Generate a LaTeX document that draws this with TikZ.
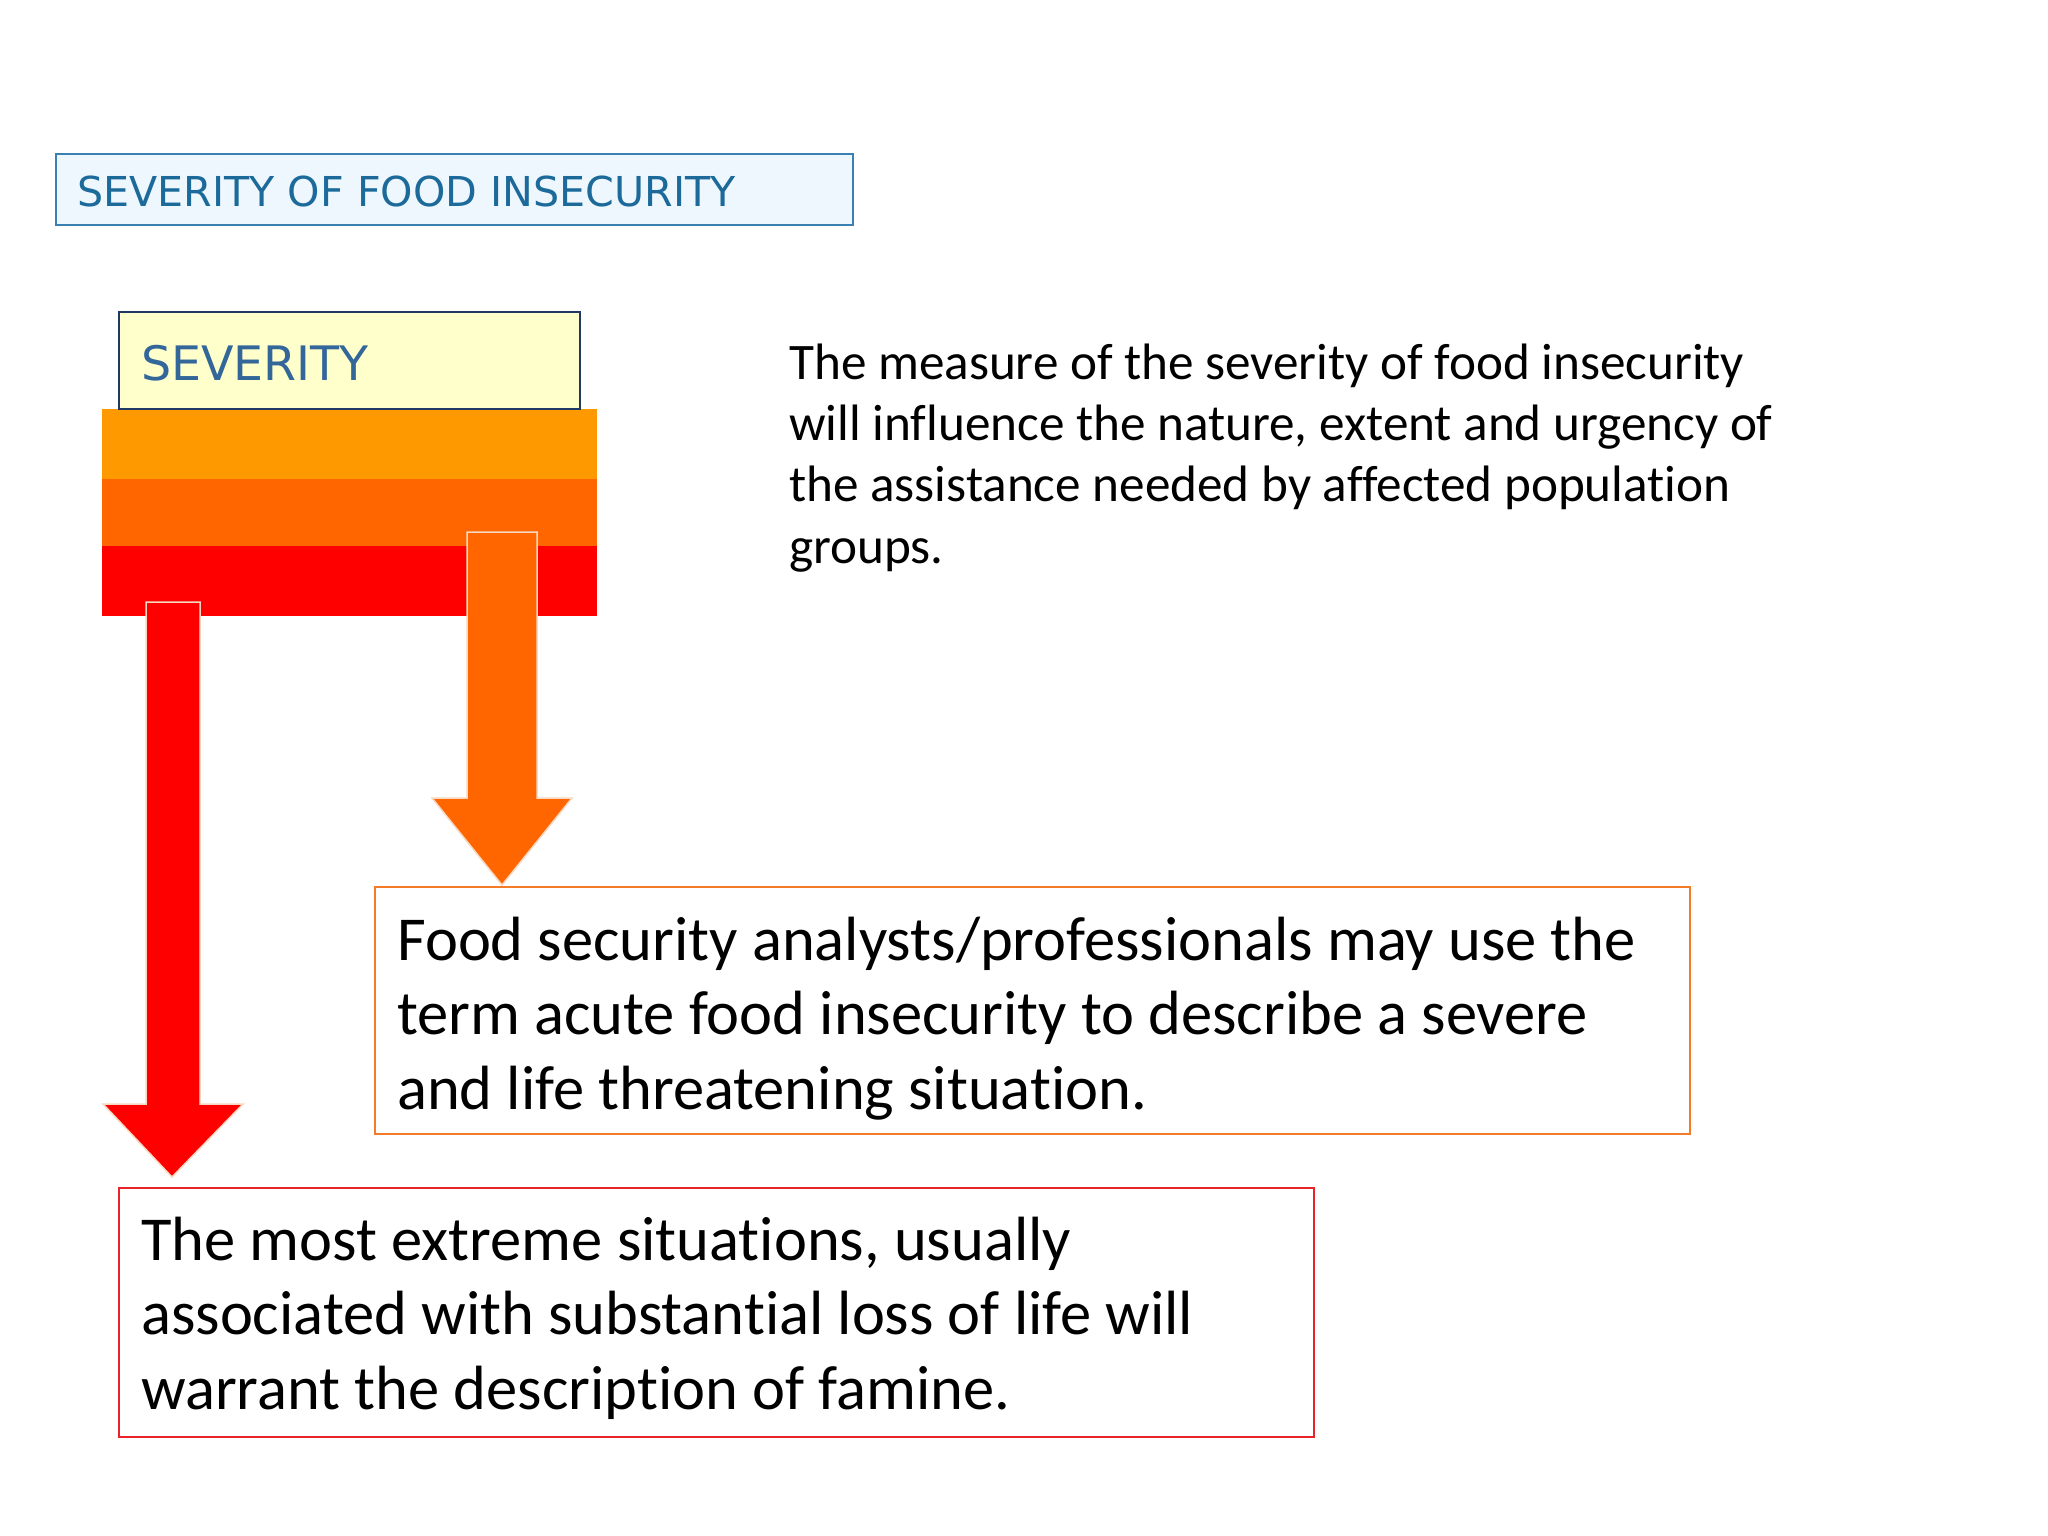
\documentclass[tikz,border=0pt]{standalone}
\usepackage{fontspec}
\newfontfamily\calib[Ligatures=NoCommon]{Carlito}
\newfontfamily\verd{DejaVu Sans}
\definecolor{titleblue}{HTML}{1B6A9A}
\definecolor{titleborder}{HTML}{3A80B0}
\definecolor{titlefill}{HTML}{EEF7FD}
\definecolor{sevblue}{HTML}{336699}
\definecolor{sevborder}{HTML}{1F3864}
\definecolor{sevfill}{HTML}{FFFFCC}
\definecolor{bandA}{HTML}{FF9900}
\definecolor{bandB}{HTML}{FF6600}
\definecolor{bandC}{HTML}{FF0000}
\definecolor{boxorange}{HTML}{F47B28}
\definecolor{boxred}{HTML}{E8242A}
\definecolor{arrowedge}{HTML}{F8D8C0}
\tikzset{
  arrowshape/.style={draw=arrowedge, line width=1.5pt, line join=miter},
  infobox/.style={line width=2pt, fill=white},
}
\begin{document}
\begin{tikzpicture}[x=1pt,y=-1pt]
\useasboundingbox (0,0) rectangle (2048,1536);
\fill[white] (0,0) rectangle (2048,1536);
% title
\draw[titleborder, line width=2pt, fill=titlefill] (56,154) rectangle (853,225);
\node[anchor=base west, inner sep=0, text=titleblue, font=\verd\fontsize{41.2}{48}\selectfont] (title) at (77,206) {SEVERITY OF FOOD INSECURITY};
% bands
\fill[bandA] (102,409) rectangle (597,479);
\fill[bandB] (102,479) rectangle (597,546);
\fill[bandC] (102,546) rectangle (597,616);
% severity box
\draw[sevborder, line width=2pt, fill=sevfill] (119,312) rectangle (580,409);
\node[anchor=base west, inner sep=0, text=sevblue, font=\verd\fontsize{47.5}{60}\selectfont] (sev) at (141,380) {SEVERITY};
% orange arrow
\draw[arrowshape, fill=bandB] (467,532) -- (537,532) -- (537,798) -- (572,798) -- (502,885) -- (432,798) -- (467,798) -- cycle;
% red arrow
\draw[arrowshape, fill=bandC] (146,602) -- (200,602) -- (200,1104) -- (243,1104) -- (172,1177) -- (103,1104) -- (146,1104) -- cycle;
% right paragraph
\node[anchor=base west, inner sep=0, font=\calib\fontsize{51.2}{61.4}\selectfont] (para) at (789,379) {\parbox[t]{1200pt}{\raggedright The measure of the severity of food insecurity\\ will influence the nature, extent and urgency of\\ the assistance needed by affected population\\ groups.}};
% orange box
\draw[boxorange, infobox] (375,887) rectangle (1690,1134);
\node[anchor=base west, inner sep=0, font=\calib\fontsize{62.5}{74.5}\selectfont] (acute) at (397,960) {\parbox[t]{1400pt}{\raggedright Food security analysts/professionals may use the\\ term acute food insecurity to describe a severe\\ and life threatening situation.}};
% red box
\draw[boxred, infobox] (119,1188) rectangle (1314,1437);
\node[anchor=base west, inner sep=0, font=\calib\fontsize{62.5}{74.5}\selectfont] (famine) at (141,1260) {\parbox[t]{1300pt}{\raggedright The most extreme situations, usually\\ associated with substantial loss of life will\\ warrant the description of famine.}};
\end{tikzpicture}
\end{document}
